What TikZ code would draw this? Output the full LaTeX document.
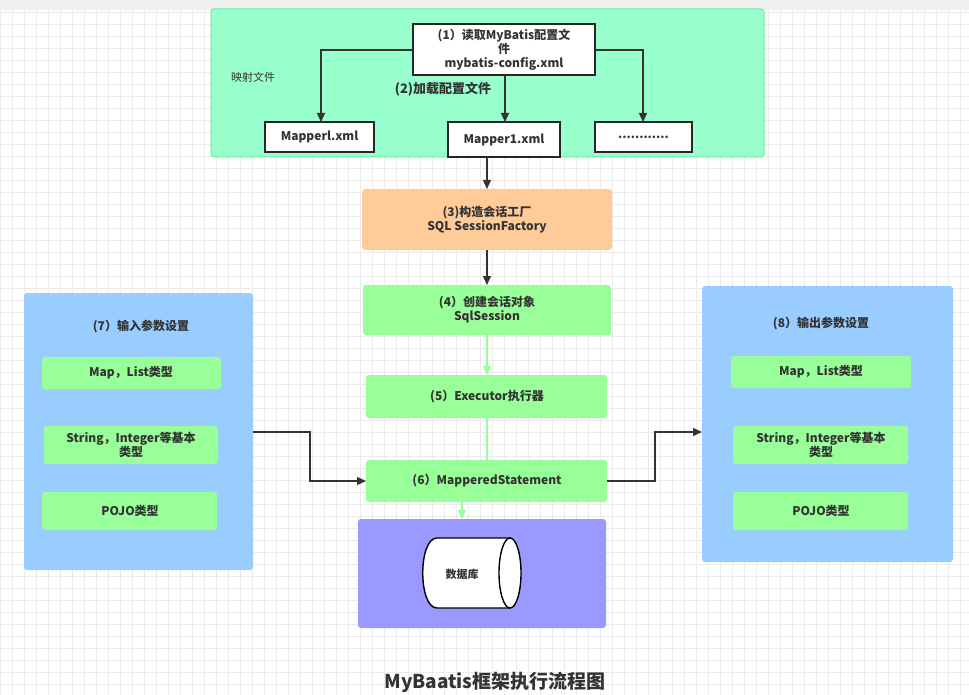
\documentclass[tikz,border=0pt]{standalone}
\usepackage{fontspec}
\setmainfont{Noto Sans CJK SC}
\usetikzlibrary{arrows.meta}
\definecolor{txt}{HTML}{333333}
\definecolor{mint}{HTML}{99FFCC}
\definecolor{mintb}{HTML}{66EE99}
\definecolor{orng}{HTML}{FFCC99}
\definecolor{lgreen}{HTML}{99FF99}
\definecolor{lblue}{HTML}{99CCFF}
\definecolor{lviolet}{HTML}{9999FF}
\begin{document}
\begin{tikzpicture}[x=1pt,y=-1pt,
  lbl/.style={text=txt,font=\fontsize{12}{14}\selectfont\bfseries,align=center},
  wbox/.style={draw=black!85,line width=1.6pt,fill=white,lbl},
  gbox/.style={fill=lgreen,rounded corners=3pt,lbl},
  panel/.style={rounded corners=3pt},
  arr/.style={-{Triangle[length=9pt,width=8pt]},line width=1.4pt,draw=black!80},
  garr/.style={-{Triangle[length=9pt,width=8pt]},line width=1.4pt,draw=lgreen}]
\useasboundingbox (0,0) rectangle (969,695);
\fill[white] (0,0) rectangle (969,695);
\fill[black!6] (0,0) rectangle (969,10);
\foreach \i in {0,12,...,969} \draw[black!8,line width=0.5pt] (\i,10) -- (\i,695);
\foreach \j in {12,24,...,695} \draw[black!8,line width=0.5pt] (0,\j) -- (969,\j);
% top container
\draw[panel,fill=mint,draw=mintb,line width=1pt] (211,9) rectangle (764,157);
\node[text=txt,font=\fontsize{11}{13}\selectfont] (map) at (253,77) {映射文件};
\draw[wbox] (413,24) rectangle (595,75);
\node[lbl] (b1) at (504,50) {(1）读取MyBatis配置文\\件\\mybatis-config.xml};
\draw[wbox] (265,122) rectangle (374,152) node[lbl,midway] (m1) {Mapperl.xml};
\draw[wbox] (448,122) rectangle (560,157) node[lbl,midway] (m2) {Mapper1.xml};
\draw[wbox] (595,122) rectangle (692,152) node[lbl,midway] (m3) {............};
\coordinate (b1l) at (413,50); \coordinate (b1r) at (595,50);
\coordinate (b1b) at (505,75);
\draw[arr] (b1l) -| (321,122);
\draw[arr] (b1b) -- (505,122);
\draw[arr] (b1r) -| (643,122);
\node[lbl,font=\fontsize{13}{15}\selectfont\bfseries] (l2) at (443,89) {(2)加载配置文件};
% chain
\draw[arr] (487,157) -- (487,189);
\fill[orng,rounded corners=3pt] (362,189) rectangle (612,250);
\node[lbl] (f3) at (487,220) {(3)构造会话工厂\\SQL SessionFactory};
\draw[arr] (487,250) -- (487,285);
\fill[gbox] (363,285) rectangle (611,335);
\node[lbl] (s4) at (487,310) {(4）创建会话对象\\SqlSession};
\draw[garr] (487,335) -- (487,375);
\fill[gbox] (366,375) rectangle (607,418);
\node[lbl] (e5) at (487,397) {(5）Executor执行器};
\draw[lgreen,line width=1.4pt] (487,418) -- (487,460);
\fill[gbox] (366,460) rectangle (607,502);
\node[lbl] (m6) at (487,481) {(6）MapperedStatement};
\fill[lviolet,rounded corners=3pt] (358,519) rectangle (606,628);
\draw[garr] (462,502) -- (462,519);
% cylinder
\draw[line width=1.4pt,fill=white] (437,538) -- (510,538) -- (510,608) -- (437,608) .. controls (418,608) and (418,538) .. (437,538) -- cycle;
\draw[line width=1.4pt,fill=white] (510,573) ellipse [x radius=11,y radius=35];
\node[text=txt,font=\fontsize{11}{13}\selectfont\bfseries] (db) at (462,574) {数据库};
% left panel
\fill[lblue,panel] (24,293) rectangle (253,570);
\node[lbl] (p7) at (141,326) {(7）输入参数设置};
\fill[gbox] (42,357) rectangle (221,389); \node[lbl] (i1) at (131,373) {Map，List类型};
\fill[gbox] (44,426) rectangle (218,464); \node[lbl] (i2) at (131,445) {String，Integer等基本\\类型};
\fill[gbox] (42,492) rectangle (217,530); \node[lbl] (i3) at (130,511) {POJO类型};
% right panel
\fill[lblue,panel] (702,286) rectangle (953,562);
\node[lbl] (p8) at (821,323) {(8）输出参数设置};
\fill[gbox] (731,356) rectangle (911,388); \node[lbl] (o1) at (821,372) {Map，List类型};
\fill[gbox] (733,426) rectangle (908,464); \node[lbl] (o2) at (821,445) {String，Integer等基本\\类型};
\fill[gbox] (733,492) rectangle (908,530); \node[lbl] (o3) at (821,511) {POJO类型};
% side arrows
\draw[arr] (253,432) -- (310,432) -- (310,481) -- (366,481);
\draw[arr] (607,481) -- (655,481) -- (655,432) -- (702,432);
\node[text=txt,font=\fontsize{19}{21}\selectfont\bfseries] (title) at (495,682) {MyBaatis框架执行流程图};
\end{tikzpicture}
\end{document}
